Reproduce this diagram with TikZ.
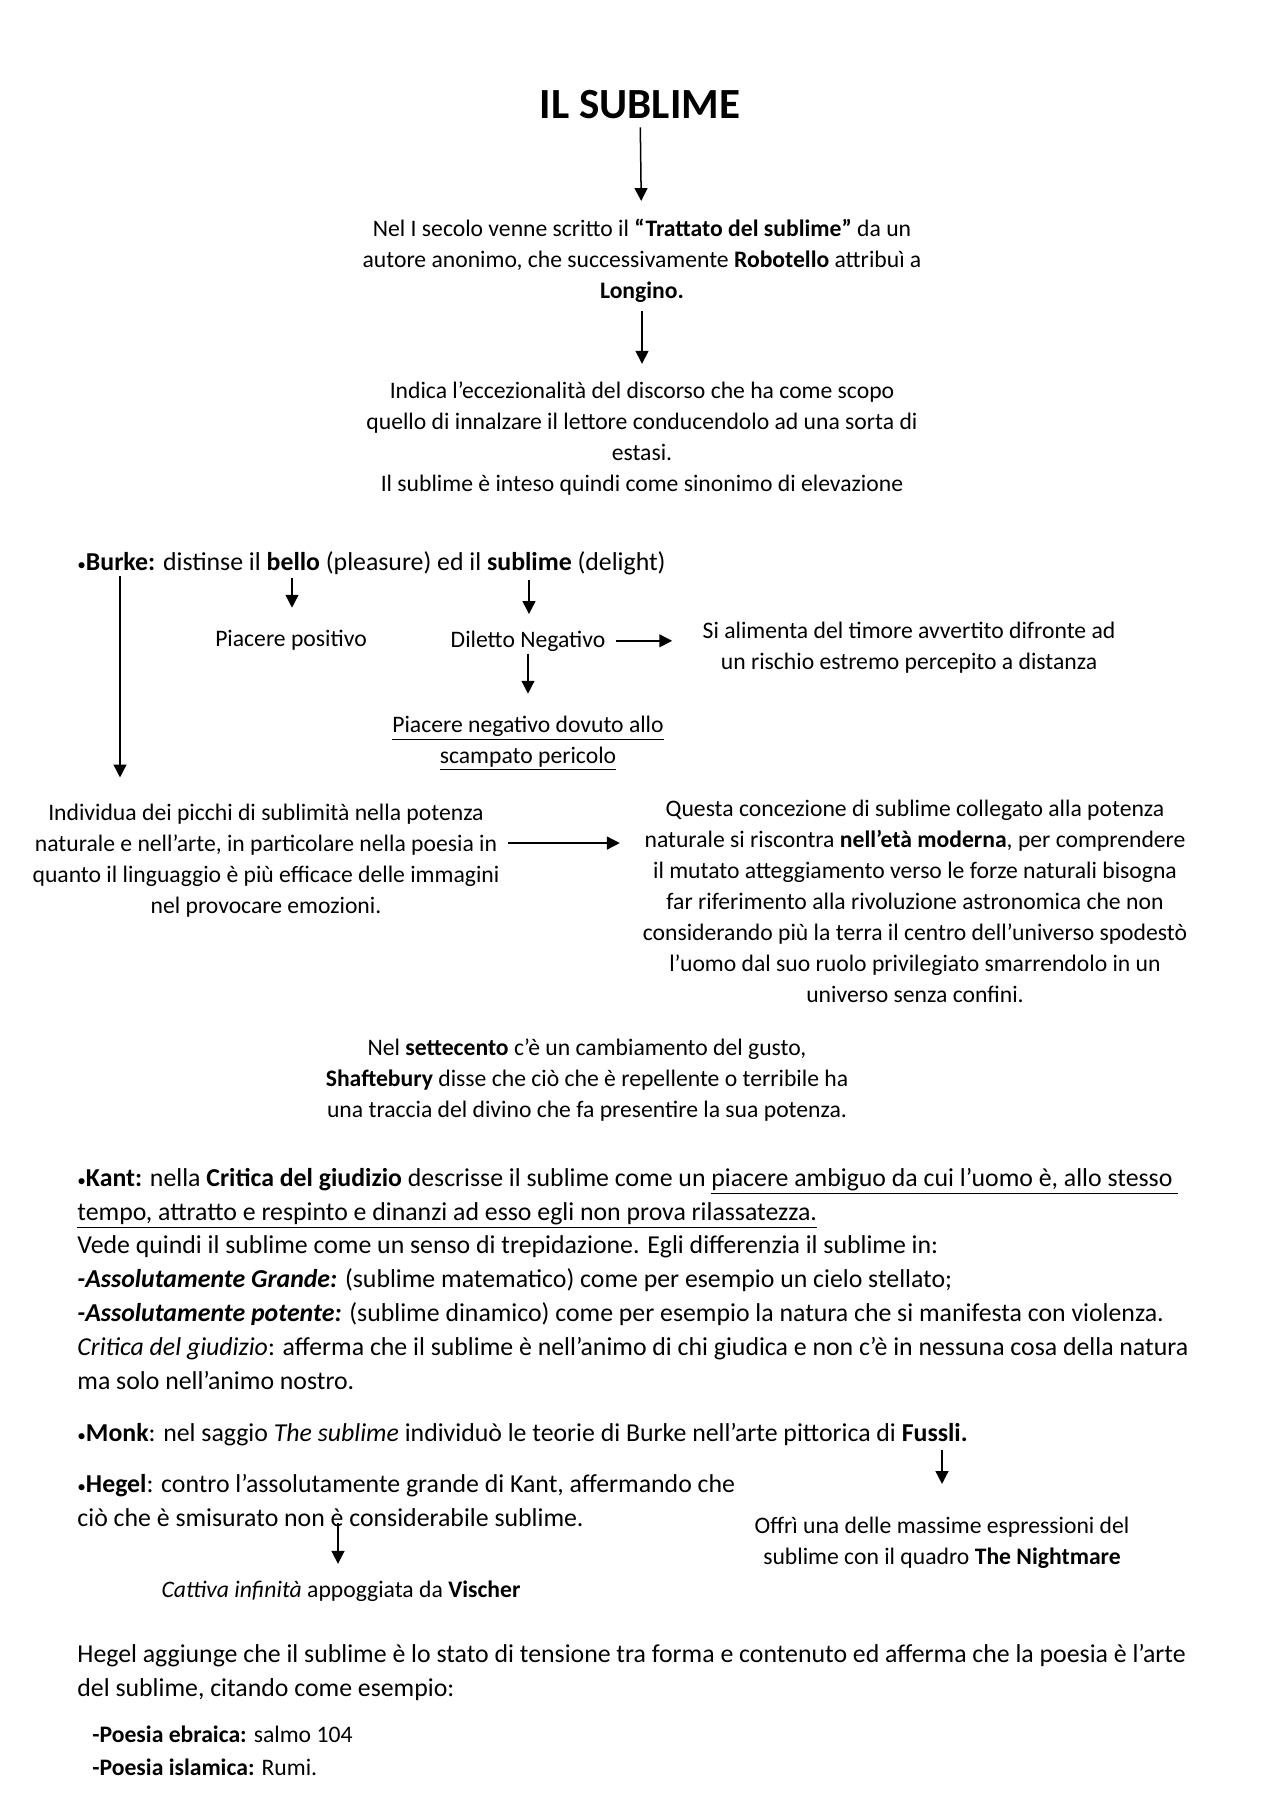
\documentclass[tikz,border=0pt]{standalone}
\usepackage{fontspec}
\setmainfont{Carlito}
\usetikzlibrary{positioning, arrows.meta}

\newcommand{\bul}{{\fontsize{8}{8}\selectfont •}}

\begin{document}
\begin{tikzpicture}[
    x=0.46508pt, y=-0.46508pt,
    arr/.style={-{Triangle[width=6pt,length=6pt]}, line width=0.7pt},
    blk/.style={align=center, inner sep=0pt, anchor=base, font=\fontsize{11}{14.4}\selectfont},
    para/.style={align=left, inner sep=0pt, anchor=base west, font=\fontsize{12}{15.7}\selectfont}
]
    \useasboundingbox (0,0) rectangle (1280,1811);

    % Titolo (le y dei blocchi sono quelle dell'ultima riga)
    \node[font=\fontsize{20}{24}\selectfont\bfseries, inner sep=0pt, anchor=base] (title) at (640,118) {IL SUBLIME};
    \node[blk] (trattato) at (642,298) {Nel I secolo venne scritto il \textbf{“Trattato del sublime”} da un\\ autore anonimo, che successivamente \textbf{Robotello} attribuì a\\ \textbf{Longino.}};
    \node[blk] (indica) at (642,491) {Indica l’eccezionalità del discorso che ha come scopo\\ quello di innalzare il lettore conducendolo ad una sorta di\\ estasi.\\ Il sublime è inteso quindi come sinonimo di elevazione};

    % Burke
    \node[para] (burke) at (77,570) {\bul\textbf{Burke:} distinse il \textbf{bello} (pleasure) ed il \textbf{sublime} (delight)};
    \coordinate (burkeA) at (120,576);
    \coordinate (belloA) at (292,578);
    \coordinate (sublA) at (529,580);
    \node[blk] (positivo) at (291,646) {Piacere positivo};
    \node[blk] (diletto) at (528,647) {Diletto Negativo};
    \node[blk] (timore) at (909,669) {Si alimenta del timore avvertito difronte ad\\ un rischio estremo percepito a distanza};
    \node[blk] (negativo) at (528,763) {\underline{Piacere negativo dovuto allo}\\ \underline{scampato pericolo}};
    \node[blk] (individua) at (266,913) {Individua dei picchi di sublimità nella potenza\\ naturale e nell’arte, in particolare nella poesia in\\ quanto il linguaggio è più efficace delle immagini\\ nel provocare emozioni.};
    \node[blk] (moderna) at (915,1002) {Questa concezione di sublime collegato alla potenza\\ naturale si riscontra \textbf{nell’età moderna}, per comprendere\\ il mutato atteggiamento verso le forze naturali bisogna\\ far riferimento alla rivoluzione astronomica che non\\ considerando più la terra il centro dell’universo spodestò\\ l’uomo dal suo ruolo privilegiato smarrendolo in un\\ universo senza confini.};
    \node[blk] (settecento) at (587,1117) {Nel \textbf{settecento} c’è un cambiamento del gusto,\\ \textbf{Shaftebury} disse che ciò che è repellente o terribile ha\\ una traccia del divino che fa presentire la sua potenza.};

    % Kant
    \node[para] (kant) at (77,1389) {\bul\textbf{Kant:} nella \textbf{Critica del giudizio} descrisse il sublime come un \underline{piacere ambiguo da cui l’uomo è, allo stesso\ }\\
        \underline{tempo, attratto e respinto e dinanzi ad esso egli non prova rilassatezza.}\\
        Vede quindi il sublime come un senso di trepidazione. Egli differenzia il sublime in:\\
        \textbf{\textit{-Assolutamente Grande:}} (sublime matematico) come per esempio un cielo stellato;\\
        \textbf{\textit{-Assolutamente potente:}} (sublime dinamico) come per esempio la natura che si manifesta con violenza.\\
        \textit{Critica del giudizio}: afferma che il sublime è nell’animo di chi giudica e non c’è in nessuna cosa della natura\\
        ma solo nell’animo nostro.};

    % Monk e Hegel
    \node[para] (monk) at (77,1441) {\bul\textbf{Monk}: nel saggio \textit{The sublime} individuò le teorie di Burke nell’arte pittorica di \textbf{Fussli.}};
    \coordinate (fussli) at (942,1450);
    \node[blk] (nightmare) at (942,1564) {Offrì una delle massime espressioni del\\ sublime con il quadro \textbf{The Nightmare}};
    \node[para] (hegel) at (77,1526) {\bul\textbf{Hegel}: contro l’assolutamente grande di Kant, affermando che\\ ciò che è smisurato non è considerabile sublime.};
    \coordinate (hegelA) at (338,1523);
    \node[blk] (cattiva) at (341,1597) {\textit{Cattiva infinità} appoggiata da \textbf{Vischer}};
    \node[para] (aggiunge) at (77,1696) {Hegel aggiunge che il sublime è lo stato di tensione tra forma e contenuto ed afferma che la poesia è l’arte\\ del sublime, citando come esempio:};
    \node[para, font=\fontsize{11}{14.9}\selectfont] (poesie) at (92,1775) {\textbf{-Poesia ebraica:} salmo 104\\ \textbf{-Poesia islamica:} Rumi.};

    % Frecce
    \draw[arr, shorten <=4pt, shorten >=8pt] (title) -- (trattato);
    \draw[arr, shorten <=4pt, shorten >=8pt] (trattato) -- (indica);
    \draw[arr, shorten >=12pt] (burkeA) -- (burkeA |- individua.north);
    \draw[arr, shorten >=10pt] (belloA) -- (belloA |- positivo.north);
    \draw[arr, shorten >=7.5pt] (sublA) -- (sublA |- diletto.north);
    \draw[arr, shorten <=1pt, shorten >=10pt] (diletto) -- (negativo);
    \draw[arr, shorten <=5pt, shorten >=14pt] (diletto.east) -- (diletto.east -| timore.west);
    \draw[arr, shorten <=4pt, shorten >=10.5pt] ([yshift=8pt]individua.east) -- ([yshift=8pt]individua.east -| moderna.west);
    \draw[arr, shorten >=15pt] (fussli) -- (fussli |- nightmare.north);
    \draw[arr, shorten >=7.5pt] (hegelA) -- (hegelA |- cattiva.north);
\end{tikzpicture}
\end{document}
